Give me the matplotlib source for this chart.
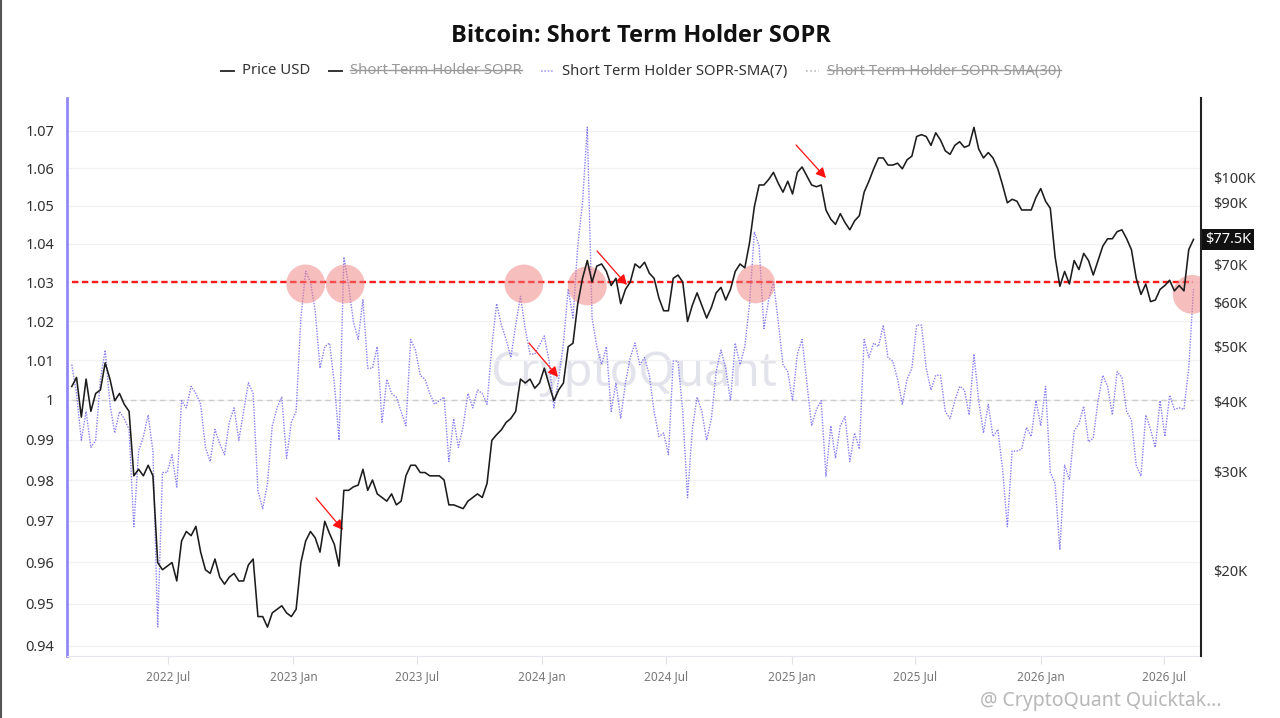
#!/usr/bin/env python3
"""Bitcoin short term holder SOPR (SMA 7) against price, CryptoQuant style."""

from __future__ import annotations

import matplotlib

matplotlib.use("Agg")
import matplotlib.pyplot as plt
import matplotlib.transforms as mtransforms
import pandas as pd
from matplotlib.lines import Line2D
from matplotlib.ticker import FixedFormatter, FixedLocator, NullLocator


# weekly samples starting at START_DATE
START_DATE = "2022-02-10"

PRICE_USD_K = [
    # 2022
    42.5, 44.1, 37.5, 43.8, 38.4, 41.3, 41.9, 46.8, 43.8, 40.1,
    41.3, 39.5, 38.4, 29.5, 30.3, 29.5, 30.8, 29.5, 20.7, 20.1,
    20.4, 20.7, 19.2, 22.6, 23.5, 23.1, 24.0, 21.6, 20.1, 19.8,
    21.0, 19.5, 18.95, 19.5, 19.8, 19.2, 19.2, 20.5, 21.0, 16.6,
    16.6, 15.9, 16.85, 17.1, 17.35, 16.85, 16.6, 17.1, 20.7,
    # 2023
    22.6, 23.5, 22.9, 21.6, 24.5, 23.3, 22.3, 20.4, 27.8, 27.8,
    28.2, 28.4, 30.3, 27.8, 29.0, 27.4, 27.0, 26.6, 27.4, 26.2,
    26.6, 29.5, 30.8, 30.8, 29.9, 29.9, 29.5, 29.5, 29.5, 29.0,
    26.2, 26.2, 26.0, 25.8, 26.6, 27.0, 27.4, 27.0, 28.6, 34.1,
    34.9, 35.6, 36.7, 37.3, 38.4, 43.8, 43.1, 43.8,
    # 2024
    42.2, 43.1, 45.8, 42.8, 40.1, 41.9, 43.1, 50.0, 50.7, 59.6,
    66.1, 71.1, 65.1, 69.5, 70.1, 68.0, 64.2, 66.1, 59.6, 63.2,
    65.1, 70.1, 69.0, 70.6, 67.5, 66.1, 61.0, 57.9, 57.9, 66.1,
    67.0, 65.1, 55.4, 59.2, 62.3, 59.2, 56.2, 58.7, 62.3, 63.7,
    60.5, 63.2, 68.0, 70.1, 69.0, 76.5, 88.6, 96.8,
    # 2025
    96.8, 99.0, 101.9, 97.5, 94.0, 98.3, 93.3, 101.9, 104.2, 100.4,
    96.8, 96.1, 96.8, 87.4, 84.2, 82.4, 86.1, 83.0, 80.6, 83.6,
    85.4, 94.0, 98.3, 103.4, 108.1, 108.1, 105.0, 105.0, 105.8, 103.4,
    107.3, 108.9, 118.0, 118.9, 118.0, 113.8, 119.8, 116.3, 111.3, 109.7,
    113.8, 115.5, 112.9, 113.8, 122.5, 112.1, 108.1, 110.5,
    # 2026
    108.1, 103.4, 96.8, 90.0, 91.3, 90.6, 87.4, 87.4, 87.4, 92.0,
    95.4, 90.6, 88.0, 72.2, 64.0, 68.0, 64.6, 71.1, 68.5, 73.2,
    71.1, 67.0, 71.1, 75.4, 77.7, 77.7, 80.0, 80.6, 77.7, 74.3,
    66.1, 61.9, 64.6, 60.1, 60.5, 63.2, 64.2, 65.6, 62.8, 64.2,
    62.8, 74.3, 77.5,
]

STH_SOPR_SMA7 = [
    1.0089, 1.0016, 0.9899, 0.9971, 0.9881, 0.9899, 1.0052, 1.0126, 0.9989, 0.9917,
    0.9971, 0.9953, 0.9926, 0.9686, 0.9872, 0.9908, 0.9962, 0.9872, 0.9445, 0.9819,
    0.9819, 0.9863, 0.9783, 0.9998, 0.9980, 1.0034, 1.0016, 0.9989, 0.9881, 0.9846,
    0.9926, 0.9890, 0.9863, 0.9944, 0.9980, 0.9899, 0.9971, 1.0043, 1.0016, 0.9774,
    0.9730, 0.9792, 0.9935, 0.9980, 1.0007, 0.9854, 0.9944, 0.9971, 1.0208,
    1.0329, 1.0301, 1.0227, 1.0080, 1.0135, 1.0144, 1.0043, 0.9899, 1.0366, 1.0292,
    1.0199, 1.0153, 1.0255, 1.0080, 1.0080, 1.0135, 0.9944, 1.0052, 1.0016, 1.0007,
    0.9971, 0.9935, 1.0153, 1.0126, 1.0062, 1.0052, 1.0016, 0.9989, 0.9998, 1.0007,
    0.9846, 0.9953, 0.9881, 0.9935, 1.0016, 0.9980, 1.0025, 1.0016, 0.9989, 1.0135,
    1.0245, 1.0190, 1.0153, 1.0107, 1.0190, 1.0264, 1.0181, 1.0116,
    1.0116, 1.0139, 1.0162, 1.0098, 0.9980, 1.0052, 1.0144, 1.0283, 1.0208, 1.0395,
    1.0508, 1.0710, 1.0208, 1.0135, 1.0089, 1.0135, 0.9971, 1.0043, 0.9953, 1.0043,
    1.0107, 1.0144, 1.0089, 1.0107, 1.0062, 0.9971, 0.9908, 0.9917, 0.9863, 1.0098,
    1.0098, 0.9971, 0.9757, 0.9926, 1.0007, 0.9971, 0.9899, 0.9953, 1.0071, 1.0126,
    1.0080, 0.9998, 1.0144, 1.0089, 1.0135, 1.0245, 1.0432, 1.0395,
    1.0181, 1.0255, 1.0301, 1.0199, 1.0089, 1.0071, 0.9998, 1.0116, 1.0153, 1.0043,
    0.9935, 0.9976, 0.9998, 0.9810, 0.9935, 0.9854, 0.9935, 0.9958, 0.9846, 0.9917,
    0.9877, 1.0153, 1.0107, 1.0144, 1.0135, 1.0190, 1.0107, 1.0098, 1.0052, 0.9989,
    1.0052, 1.0080, 1.0190, 1.0190, 1.0080, 1.0025, 1.0062, 1.0062, 0.9971, 0.9953,
    0.9998, 1.0034, 1.0025, 0.9962, 1.0116, 0.9998, 0.9917, 0.9989,
    0.9908, 0.9926, 0.9828, 0.9686, 0.9872, 0.9872, 0.9877, 0.9931, 0.9908, 0.9998,
    0.9935, 1.0034, 0.9819, 0.9792, 0.9630, 0.9837, 0.9801, 0.9922, 0.9940, 0.9984,
    0.9895, 0.9904, 0.9998, 1.0062, 1.0034, 0.9962, 1.0071, 1.0057, 0.9971, 0.9949,
    0.9837, 0.9810, 0.9962, 0.9926, 0.9881, 0.9998, 0.9908, 1.0012, 0.9976, 0.9980,
    0.9976, 1.0080, 1.0283,
]

SOPR_TICKS = [0.94, 0.95, 0.96, 0.97, 0.98, 0.99, 1.0,
              1.01, 1.02, 1.03, 1.04, 1.05, 1.06, 1.07]
SOPR_TICK_LABELS = ["0.94", "0.95", "0.96", "0.97", "0.98", "0.99", "1",
                    "1.01", "1.02", "1.03", "1.04", "1.05", "1.06", "1.07"]
PRICE_TICKS_K = [20, 30, 40, 50, 60, 70, 90, 100]
PRICE_TICK_LABELS = ["$20K", "$30K", "$40K", "$50K", "$60K", "$70K", "$90K", "$100K"]
DATE_TICKS = ["2022-07-01", "2023-01-01", "2023-07-01", "2024-01-01", "2024-07-01",
              "2025-01-01", "2025-07-01", "2026-01-01", "2026-07-01"]
DATE_TICK_LABELS = ["2022 Jul", "2023 Jan", "2023 Jul", "2024 Jan", "2024 Jul",
                    "2025 Jan", "2025 Jul", "2026 Jan", "2026 Jul"]

THRESHOLD = 1.03
HIGHLIGHT_DATES = ["2023-01-19", "2023-03-18", "2023-12-05",
                   "2024-03-07", "2024-11-09", "2026-08-11"]
HIGHLIGHT_LEVELS = [1.0296, 1.0296, 1.0296, 1.0291, 1.0296, 1.0269]
LAST_PRICE_LABEL = "$77.5K"

# arrow (tail, head) in axes fraction
ARROWS = [
    ((0.2196, 0.2832), (0.2434, 0.2258)),
    ((0.4074, 0.5609), (0.4330, 0.5000)),
    ((0.4674, 0.7258), (0.4938, 0.6649)),
    ((0.6429, 0.9158), (0.6693, 0.8566)),
]

SOPR_COLOR = "#7468f0"
LEFT_SPINE_COLOR = "#9188f5"
TEXT_COLOR = "#333333"
MUTED_COLOR = "#9a9a9a"

W, H = 1280, 718


def draw_legend(fig: plt.Figure, y: float) -> None:
    entries = [
        ("Price USD", dict(color="#333333", lw=1.4), False),
        ("Short Term Holder SOPR", dict(color="#333333", lw=1.4), True),
        ("Short Term Holder SOPR-SMA(7)", dict(color="#a79ff6", lw=1.2, ls=(0, (1, 1))), False),
        ("Short Term Holder SOPR-SMA(30)", dict(color="#bbbbbb", lw=1.2, ls=(0, (1, 1.5))), True),
    ]
    fig.canvas.draw()
    renderer = fig.canvas.get_renderer()
    line_w, gap_line, gap_item = 13 / W, 8 / W, 19 / W

    texts = []
    widths = []
    for label, _, hidden in entries:
        t = fig.text(0, y, label, fontsize=10.7, va="center", ha="left",
                     color=MUTED_COLOR if hidden else TEXT_COLOR)
        texts.append(t)
        widths.append(t.get_window_extent(renderer).width / W)

    total = sum(line_w + gap_line + w for w in widths) + gap_item * (len(entries) - 1)
    x = 641 / W - total / 2
    for (label, style, hidden), t, w in zip(entries, texts, widths):
        fig.add_artist(Line2D([x, x + line_w], [y, y], transform=fig.transFigure, **style))
        tx = x + line_w + gap_line
        t.set_x(tx)
        if hidden:
            fig.add_artist(Line2D([tx, tx + w], [y + 1 / H, y + 1 / H],
                                  transform=fig.transFigure, color=MUTED_COLOR, lw=1.0))
        x = tx + w + gap_item


def main() -> None:
    plt.rcParams["font.family"] = ["Noto Sans", "DejaVu Sans"]

    price_dates = pd.date_range(START_DATE, periods=len(PRICE_USD_K), freq="7D")
    sopr_dates = pd.date_range(START_DATE, periods=len(STH_SOPR_SMA7), freq="7D")
    price = [p * 1000 for p in PRICE_USD_K]

    fig = plt.figure(figsize=(W / 100, H / 100), dpi=100)
    fig.subplots_adjust(left=67 / W, right=1201 / W, bottom=1 - 656 / H, top=1 - 98 / H)
    ax = fig.add_subplot(111)
    ax2 = ax.twinx()

    # left axis: SOPR
    ax.set_yscale("log")
    ax.set_ylim(0.9376, 1.0789)
    ax.yaxis.set_major_locator(FixedLocator(SOPR_TICKS))
    ax.yaxis.set_major_formatter(FixedFormatter(SOPR_TICK_LABELS))
    ax.yaxis.set_minor_locator(NullLocator())
    ax.grid(axis="y", color="#f1f1f4", lw=0.9)
    ax.set_axisbelow(True)
    ax.tick_params(axis="y", length=0, pad=9, labelsize=10.5, labelcolor=TEXT_COLOR)

    ax.text(0.5, 0.507, "CryptoQuant", transform=ax.transAxes, fontsize=34,
            color="#e3e3eb", ha="center", va="center", zorder=0)

    ax.hlines(1.0, sopr_dates[0], sopr_dates[-1], colors="#cccccc", lw=1.0,
              linestyles=(0, (4, 3)), zorder=1)
    ax.plot(sopr_dates, STH_SOPR_SMA7, color=SOPR_COLOR, lw=1.0,
            ls=(0, (1, 1)), alpha=0.85, zorder=2)
    ax.hlines(THRESHOLD, sopr_dates[0], sopr_dates[-1], colors="#ff1a1a", lw=1.7,
              linestyles=(0, (2.7, 1.5)), zorder=3)
    ax.scatter(pd.to_datetime(HIGHLIGHT_DATES), HIGHLIGHT_LEVELS, s=780,
               color="#f07f7f", alpha=0.5, edgecolors="none", zorder=5)

    # right axis: price
    ax2.set_yscale("log")
    ax2.yaxis.set_major_locator(FixedLocator([p * 1000 for p in PRICE_TICKS_K]))
    ax2.yaxis.set_major_formatter(FixedFormatter(PRICE_TICK_LABELS))
    ax2.yaxis.set_minor_locator(NullLocator())
    ax2.tick_params(axis="y", length=0, pad=9, labelsize=10.5, labelcolor=TEXT_COLOR)
    ax2.plot(price_dates, price, color="#1c1c1c", lw=1.15, zorder=4)
    ax2.set_ylim(14130, 138100)

    for tail, head in ARROWS:
        ax2.annotate("", xy=head, xytext=tail, xycoords="axes fraction",
                     textcoords="axes fraction",
                     arrowprops=dict(arrowstyle="-|>", color="#ff1010", lw=0.9,
                                     mutation_scale=15, shrinkA=0, shrinkB=0))

    trans = mtransforms.blended_transform_factory(ax2.transAxes, ax2.transData)
    ax2.text(1.0035, PRICE_USD_K[-1] * 1000, LAST_PRICE_LABEL, transform=trans,
             color="white", fontsize=10.5, va="center", ha="left",
             bbox=dict(boxstyle="square,pad=0.22", fc="#111111", ec="none"))

    # x axis
    ax.set_xlim(pd.Timestamp("2022-02-03"), pd.Timestamp("2026-08-24"))
    ax.set_xticks(pd.to_datetime(DATE_TICKS))
    ax.set_xticklabels(DATE_TICK_LABELS)
    ax.tick_params(axis="x", length=6, color="#e2e2e6", pad=4,
                   labelsize=8.5, labelcolor="#777777")

    for a in (ax, ax2):
        a.spines["top"].set_visible(False)
    ax.spines["right"].set_visible(False)
    ax2.spines["left"].set_visible(False)
    ax2.spines["bottom"].set_visible(False)
    ax.spines["left"].set_color(LEFT_SPINE_COLOR)
    ax.spines["left"].set_linewidth(2.0)
    ax.spines["bottom"].set_color("#e6e6ee")
    ax2.spines["right"].set_color("#222222")
    ax2.spines["right"].set_linewidth(1.5)

    fig.text(641 / W, 1 - 36 / H, "Bitcoin: Short Term Holder SOPR", ha="center",
             va="center", fontsize=17, fontweight="bold", color="#111111",
             family=["Open Sans", "Liberation Sans", "DejaVu Sans"])
    draw_legend(fig, 1 - 71 / H)

    fig.text(980 / W, 1 - 701 / H, "@ CryptoQuant Quicktak...", fontsize=14,
             color="#b8b8b8", va="center", ha="left")
    fig.add_artist(Line2D([0.0008, 0.0008], [0, 1], transform=fig.transFigure,
                          color="#555555", lw=1.5))

    fig.savefig("out.png", dpi=100)
    plt.close(fig)


if __name__ == "__main__":
    main()
